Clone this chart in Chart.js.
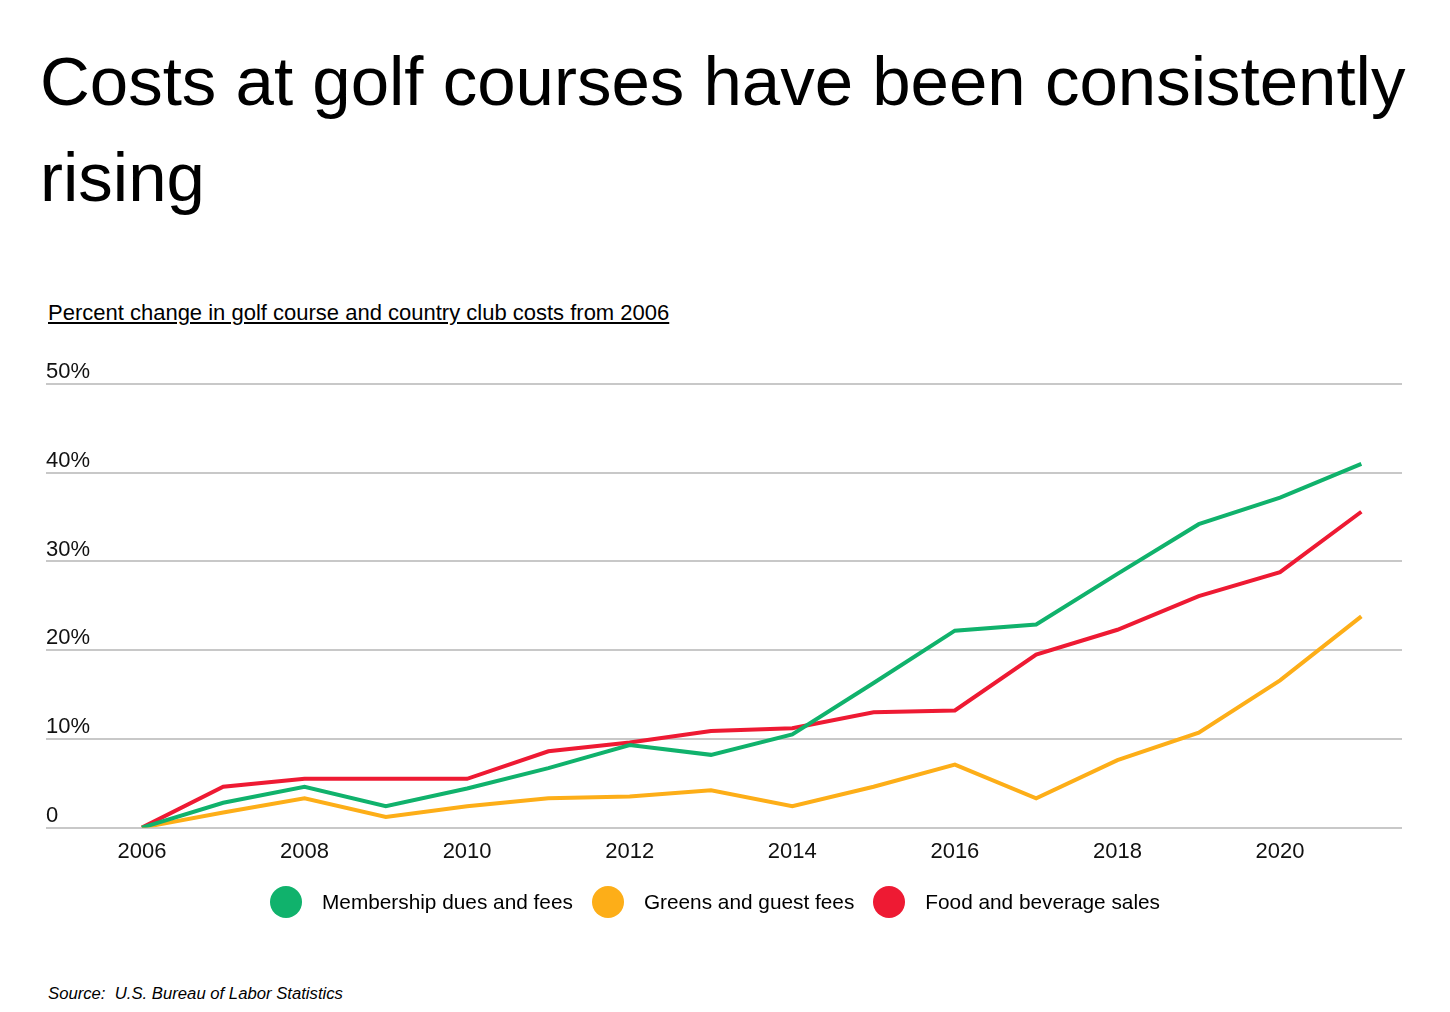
<!DOCTYPE html>
<html lang="en">
<head>
  <meta charset="UTF-8" />
  <title>Costs at golf courses</title>
  <script src="https://cdn.jsdelivr.net/npm/chart.js"></script>
  <style>
    body {
      margin: 0;
      width: 1450px;
      height: 1012px;
      background: #ffffff;
      font-family: "Liberation Sans", Arial, sans-serif;
      color: #000;
      position: relative;
      overflow: hidden;
    }
    h1 {
      position: absolute;
      left: 40px;
      top: 34px;
      width: 1400px;
      margin: 0;
      font-size: 69px;
      font-weight: normal;
      line-height: 96px;
    }
    .subtitle {
      position: absolute;
      left: 48px;
      top: 300px;
      font-size: 22px;
      text-decoration: underline;
    }
    .chart-box {
      position: absolute;
      left: 0;
      top: 340px;
      width: 1450px;
      height: 553px;
    }
    .legend {
      position: absolute;
      left: 270px;
      top: 886px;
      display: flex;
      align-items: center;
      font-size: 20.8px;
    }
    .legend span.dot {
      width: 32px;
      height: 32px;
      border-radius: 50%;
      margin-right: 20px;
    }
    .legend .item {
      display: flex;
      align-items: center;
      margin-right: 19px;
    }
    .source {
      position: absolute;
      left: 48px;
      top: 984px;
      font-size: 16.7px;
      font-style: italic;
      white-space: pre;
    }
  </style>
</head>
<body>
  <h1>Costs at golf courses have been consistently rising</h1>
  <div class="subtitle">Percent change in golf course and country club costs from 2006</div>

  <div class="chart-box">
    <canvas id="golfChart" width="1450" height="553"></canvas>
  </div>

  <div class="legend" id="legend"></div>

  <div class="source">Source:  U.S. Bureau of Labor Statistics</div>

  <script>
    const years = [2006, 2007, 2008, 2009, 2010, 2011, 2012, 2013, 2014, 2015, 2016, 2017, 2018, 2019, 2020, 2021];
    const yearTicks = [2006, 2008, 2010, 2012, 2014, 2016, 2018, 2020];
    const percentTicks = [0, 10, 20, 30, 40, 50];

    const seriesNames = ['Membership dues and fees', 'Greens and guest fees', 'Food and beverage sales'];
    const seriesColors = ['#10b26c', '#fdae18', '#ee1a33'];

    const membership = [0, 2.8, 4.6, 2.4, 4.4, 6.7, 9.3, 8.2, 10.5, 16.3, 22.2, 22.9, 28.6, 34.2, 37.2, 41.0];
    const greens = [0, 1.7, 3.3, 1.2, 2.4, 3.3, 3.5, 4.2, 2.4, 4.6, 7.1, 3.3, 7.6, 10.7, 16.6, 23.8];
    const food = [0, 4.6, 5.5, 5.5, 5.5, 8.6, 9.6, 10.9, 11.2, 13.0, 13.2, 19.5, 22.3, 26.1, 28.8, 35.6];

    const allSeries = [membership, greens, food];

    const toPoints = (values) => values.map((v, i) => ({ x: years[i], y: v }));

    const datasets = allSeries.map((values, i) => ({
      label: seriesNames[i],
      data: toPoints(values),
      borderColor: seriesColors[i],
      backgroundColor: seriesColors[i],
      borderWidth: 4,
      pointRadius: 0,
      tension: 0
    }));

    const tickFont = { family: '"Liberation Sans", Arial, sans-serif', size: 22 };

    new Chart(document.getElementById('golfChart'), {
      type: 'line',
      data: { datasets },
      options: {
        responsive: false,
        animation: false,
        layout: { padding: { top: 44, left: 46, right: 48, bottom: 17 } },
        plugins: {
          legend: { display: false },
          tooltip: { enabled: false }
        },
        scales: {
          x: {
            type: 'linear',
            min: 2004.82,
            max: 2021.5,
            grid: { display: false, drawTicks: false },
            border: { display: false },
            afterBuildTicks: (scale) => {
              scale.ticks = yearTicks.map(v => ({ value: v }));
            },
            ticks: {
              padding: 11,
              color: '#111',
              font: tickFont,
              callback: (v) => String(v)
            }
          },
          y: {
            min: 0,
            max: 50,
            afterBuildTicks: (scale) => {
              scale.ticks = percentTicks.map(v => ({ value: v }));
            },
            grid: { color: '#c8c8c8', lineWidth: 2, drawTicks: false },
            border: { display: false },
            ticks: {
              mirror: true,
              padding: 0,
              labelOffset: -12,
              color: '#111',
              font: tickFont,
              callback: (v) => v === 0 ? '0' : v + '%'
            }
          }
        }
      }
    });

    // simple html legend, built from the same names / colours
    const legendEl = document.getElementById('legend');
    seriesNames.forEach((name, i) => {
      const item = document.createElement('div');
      item.className = 'item';
      item.innerHTML = '<span class="dot" style="background:' + seriesColors[i] + '"></span><span>' + name + '</span>';
      legendEl.appendChild(item);
    });
  </script>
</body>
</html>
